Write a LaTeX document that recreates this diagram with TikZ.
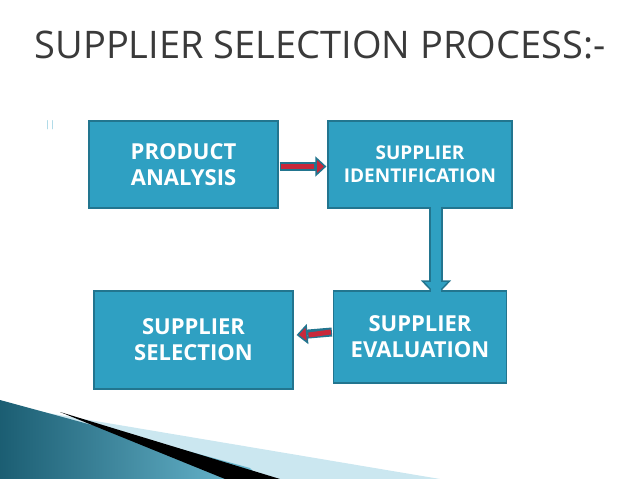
\documentclass[tikz,border=0pt]{standalone}
\usepackage{fontspec}
\setmainfont{Open Sans}
\usetikzlibrary{arrows.meta}
\definecolor{boxblue}{HTML}{2FA0C2}
\definecolor{boxedge}{HTML}{22758F}
\definecolor{arrowred}{HTML}{C8283A}
\definecolor{titlegray}{HTML}{3A3A3A}
\tikzset{
  stepbox/.style={draw=boxedge, line width=1.2pt, fill=boxblue, text=white,
    font=\fontsize{22}{26}\selectfont\bfseries, align=center, inner sep=0pt},
  redarrow/.style={draw=boxedge, line width=9pt, -{Triangle[line width=1.5pt,length=11pt,width=20pt,fill=arrowred]}},
  redcore/.style={draw=arrowred, line width=5pt},
  bluearrow/.style={draw=boxedge, line width=14pt, -{Triangle[line width=1.5pt,length=16pt,width=30pt,fill=boxblue]}},
  bluecore/.style={draw=boxblue, line width=10pt}
}
\begin{document}
\begin{tikzpicture}[x=1pt,y=-1pt]
    \useasboundingbox (0,0) rectangle (638,479);
    % Title
    \node[text=titlegray, font=\fontsize{38}{40}\selectfont] (title) at (320,45) {SUPPLIER SELECTION PROCESS:-};
    \node[text=boxblue!60, font=\small] (mark) at (50,125) {||};

    % Bottom-left decoration
    \fill[boxblue!25] (0,405) -- (440,479) -- (0,479) -- cycle;
    \shade[left color=boxedge!80!black, right color=boxblue!70] (0,400) -- (250,468) -- (260,479) -- (0,479) -- cycle;
    \fill[black] (60,412) -- (280,479) -- (225,479) -- cycle;

    % Boxes
    \node[stepbox, minimum width=189pt, minimum height=87pt] (pa) at (183.5,164.5) {PRODUCT\\ANALYSIS};
    \node[stepbox, minimum width=184pt, minimum height=87pt, font=\fontsize{19}{23}\selectfont\bfseries] (si) at (420,164.5) {SUPPLIER\\IDENTIFICATION};
    \node[stepbox, minimum width=173pt, minimum height=92pt] (se) at (420,337) {SUPPLIER\\EVALUATION};
    \node[stepbox, minimum width=199pt, minimum height=98pt] (ss) at (193.5,340) {SUPPLIER\\SELECTION};

    % Arrows
    \draw[redarrow] ([xshift=1pt,yshift=-2pt]pa.east) -- ([xshift=-1pt,yshift=-2pt]si.west);
    \draw[redcore] ([xshift=2pt,yshift=-2pt]pa.east) -- ([xshift=-13pt,yshift=-2pt]si.west);
    \draw[bluearrow] ([xshift=16pt,yshift=2pt]si.south) -- ([xshift=16pt,yshift=-6pt]se.north);
    \draw[bluecore] ([xshift=16pt,yshift=3pt]si.south) -- ([xshift=16pt,yshift=-22pt]se.north);
    \draw[redarrow] ([xshift=-1pt,yshift=5pt]se.west) -- ([xshift=3pt,yshift=5pt]ss.east);
    \draw[redcore] ([xshift=-2pt,yshift=5pt]se.west) -- ([xshift=15pt,yshift=5pt]ss.east);
\end{tikzpicture}
\end{document}
